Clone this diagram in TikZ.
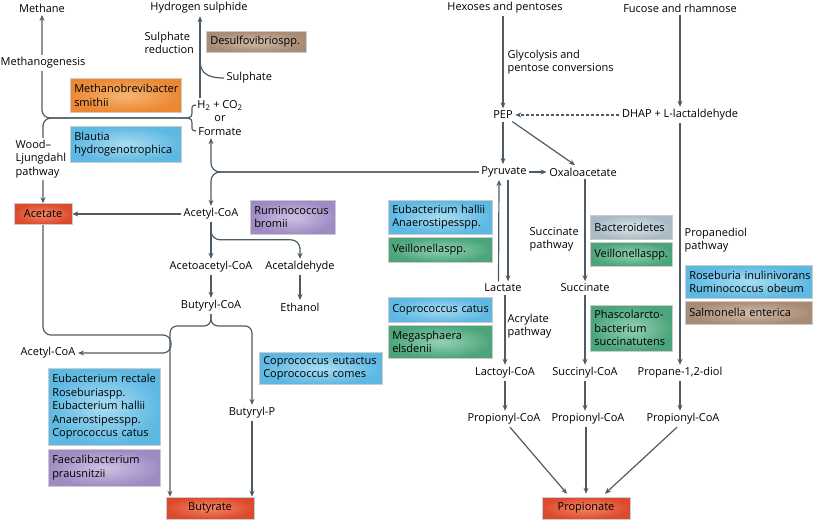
\documentclass[tikz,border=0pt]{standalone}
\usepackage{fontspec}
\setmainfont{Open Sans}
\usetikzlibrary{arrows.meta,calc}
\definecolor{linec}{HTML}{4D5B66}
\definecolor{bluein}{HTML}{A9DDF3}
\definecolor{blueout}{HTML}{5DB8E2}
\definecolor{greenin}{HTML}{93D3B3}
\definecolor{greenout}{HTML}{4CA47B}
\definecolor{purpin}{HTML}{CEC2E3}
\definecolor{purpout}{HTML}{9F8BC3}
\definecolor{orin}{HTML}{F7B673}
\definecolor{orout}{HTML}{EB8833}
\definecolor{brin}{HTML}{D0BDAD}
\definecolor{brout}{HTML}{A88B75}
\definecolor{grin}{HTML}{DCE7ED}
\definecolor{grout}{HTML}{A8BBC5}
\definecolor{redin}{HTML}{F38768}
\definecolor{redout}{HTML}{DC4A2D}
\newcommand{\fs}{\fontsize{11}{13.4}\selectfont}
\pgfdeclarelayer{bg}
\pgfsetlayers{bg,main}
\begin{document}
\begin{tikzpicture}[x=1pt,y=-1pt,
  lc/.style={draw=linec, line width=1.2pt},
  arr/.style={lc, -{Stealth[length=6pt,width=5pt]}},
  tx/.style={font=\fs, inner sep=2.5pt},
  bx/.style={draw=black!20, line width=0.5pt, font=\fs, align=left, anchor=north west, inner xsep=4pt, inner ysep=2pt,
     execute at begin node={\hyphenpenalty=10000\exhyphenpenalty=10000\hbadness=10000\hfuzz=20pt}},
  bluebox/.style={bx, inner color=bluein, outer color=blueout},
  greenbox/.style={bx, inner color=greenin, outer color=greenout},
  purplebox/.style={bx, inner color=purpin, outer color=purpout},
  orangebox/.style={bx, inner color=orin, outer color=orout},
  brownbox/.style={bx, inner color=brin, outer color=brout},
  greybox/.style={bx, inner color=grin, outer color=grout},
  redbox/.style={draw=black!20, line width=0.5pt, font=\fs, inner color=redin, outer color=redout, minimum width=88pt, minimum height=22pt, inner sep=2pt},
]
\useasboundingbox (0,0) rectangle (813,520);

% ---- top labels
\node[tx] (methane) at (42,8) {Methane};
\node[tx] (hs) at (199,8) {Hydrogen sulphide};
\node[tx] (hex) at (505,8) {Hexoses and pentoses};
\node[tx] (fuc) at (680,8) {Fucose and rhamnose};

% ---- left part
\node[tx,align=center] (h2) at (220,118) {H\textsubscript{2} + CO\textsubscript{2}\\or\\Formate};
\node[tx,anchor=west] (sulph) at (224,78) {Sulphate};
\node[tx,anchor=west,align=left] (sred) at (142,43) {Sulphate\\reduction};
\node[tx,fill=white] (mgen) at (43,63) {Methanogenesis};
\node[tx,fill=white,align=left,anchor=west] (wood) at (13,159) {Wood–\\Ljungdahl\\pathway};
\node[redbox, minimum width=58pt, minimum height=21pt] (acetate) at (43,214) {Acetate};
\node[tx] (acoa) at (211,214) {Acetyl-CoA};
\node[tx] (aacoa) at (211,267) {Acetoacetyl-CoA};
\node[tx] (acald) at (300,267) {Acetaldehyde};
\node[tx] (ethanol) at (300,307) {Ethanol};
\node[tx] (bcoa) at (211,306) {Butyryl-CoA};
\node[tx] (acoa2) at (48,353) {Acetyl-CoA};
\node[tx] (bp) at (252,413) {Butyryl-P};
\node[redbox] (butyrate) at (210,508) {Butyrate};

\node[brownbox, text width=92pt, minimum height=21pt] (desulf) at (206,31) {Desulfovibriospp.};
\node[orangebox, text width=103pt, minimum height=34pt] (methano) at (70,78) {Methanobrevibacter\\smithii};
\node[bluebox, text width=103pt, minimum height=36pt] (blautia) at (70,126) {Blautia\\hydrogenotrophica};
\node[purplebox, text width=77pt, minimum height=34pt] (rumb) at (250,200) {Ruminococcus\\bromii};
\node[bluebox, text width=104pt, minimum height=77pt] (eubr) at (48,368) {Eubacterium~rectale\\Roseburiaspp.\\Eubacterium~hallii\\Anaerostipesspp.\\Coprococcus~catus};
\node[purplebox, text width=104pt, minimum height=37pt] (faec) at (48,449) {Faecalibacterium\\prausnitzii};
\node[bluebox, text width=115pt, minimum height=32pt] (cope) at (259,352) {Coprococcus~eutactus\\Coprococcus~comes};

% ---- right part
\node[tx] (pep) at (503,115) {PEP};
\node[tx] (dhap) at (680,115) {DHAP + L-lactaldehyde};
\node[tx,anchor=west,align=left] (glyc) at (505,62) {Glycolysis and\\pentose conversions};
\node[tx] (pyr) at (504,172) {Pyruvate};
\node[tx] (oxa) at (583,172) {Oxaloacetate};
\node[tx] (lac) at (503,288) {Lactate};
\node[tx] (succ) at (585,288) {Succinate};
\node[tx,anchor=west,align=left] (spath) at (527,239) {Succinate\\pathway};
\node[tx,anchor=west,align=left] (apath) at (505,326) {Acrylate\\pathway};
\node[tx,anchor=west,align=left] (ppath) at (682,240) {Propanediol\\pathway};
\node[tx] (lcoa) at (505,373) {Lactoyl-CoA};
\node[tx] (scoa) at (585,373) {Succinyl-CoA};
\node[tx] (pdiol) at (680,373) {Propane-1,2-diol};
\node[tx] (pc1) at (504,419) {Propionyl-CoA};
\node[tx] (pc2) at (588,419) {Propionyl-CoA};
\node[tx] (pc3) at (683,419) {Propionyl-CoA};
\node[redbox] (prop) at (586,508) {Propionate};

\node[bluebox, text width=96pt, minimum height=34pt] (eubh) at (388,200) {Eubacterium~hallii\\Anaerostipesspp.};
\node[greenbox, text width=96pt, minimum height=25pt] (veil1) at (388,237) {Veillonellaspp.};
\node[bluebox, text width=96pt, minimum height=25pt] (copc) at (388,297) {Coprococcus~catus};
\node[greenbox, text width=96pt, minimum height=33pt] (mega) at (388,325) {Megasphaera\\elsdenii};
\node[greybox, text width=74pt, minimum height=24pt] (bact) at (590,215) {Bacteroidetes};
\node[greenbox, text width=74pt, minimum height=24pt] (veil2) at (590,242) {Veillonellaspp.};
\node[greenbox, text width=74pt, minimum height=46pt] (phas) at (590,305) {Phascolarcto-\\bacterium\\succinatutens};
\node[bluebox, text width=119pt, minimum height=33pt] (rose) at (685,265) {Roseburia~inulinivorans\\Ruminococcus~obeum};
\node[brownbox, text width=119pt, minimum height=23pt] (salm) at (685,301) {Salmonella~enterica};

\coordinate (hb) at (188,118);
\coordinate (sj) at (200,60);
\coordinate (bl) at (170,326);
\coordinate (br) at (252,326);
\coordinate (loop) at (171,335);

\begin{pgfonlayer}{bg}
% H2 brace
\draw[lc] (196,105) .. controls (191,105) and (192,108) .. (192,112) .. controls (192,116) and (191,118) .. (hb)
          .. controls (191,118) and (192,120) .. (192,124) .. controls (192,128) and (191,131) .. (196,131);
\draw[arr, rounded corners=8] (hb) -| (methane.south);
\draw[arr, rounded corners=8] (hb) -| (acetate.north);
\draw[arr] (h2.north -| sj) -- (sj |- hs.south);
\draw[lc] (sulph.west) .. controls (206,78) and (200,72) .. (sj);
% pyruvate line
\draw[arr, rounded corners=9] (pyr.west) -| (h2.south -| acoa.north);
\draw[arr, rounded corners=9] (pyr.west) -| (acoa.north);
\draw[arr] (acoa.west) -- (acetate.east);
\draw[arr] (acoa.south) -- (aacoa.north);
\draw[arr, rounded corners=9] (acoa.south) |- ($(acald.north)+(0,-19)$) -- (acald.north);
\draw[arr] (aacoa.south) -- (bcoa.north);
\draw[arr] (acald.south) -- (ethanol.north);
% butyryl brace
\draw[arr, rounded corners=7] (bcoa.south) |- (bl) -- (bl |- butyrate.north);
\draw[arr, rounded corners=7] (bcoa.south) |- (br) -- (bp.north);
\draw[arr] (bp.south) -- (bp.south |- butyrate.north);
% acetate loop
\draw[arr, rounded corners=8] (acetate.south) |- (loop) |- (acoa2.east);
% right part
\draw[arr] (pep.north |- hex.south) -- (pep.north);
\draw[arr] (fuc.south) -- (dhap.north);
\draw[arr, dashed, dash pattern=on 3pt off 2pt] (dhap.west) -- (pep.east);
\draw[arr] (pep.south) -- (pep.south |- pyr.north);
\draw[arr] ($(pep.south east)+(-3,0)$) -- ($(oxa.north)+(-8,0)$);
\draw[arr] (pyr.east) -- (oxa.west);
\draw[arr] ($(lac.north)+(-4.5,0)$) -- ($(pyr.south)+(-5,0)$);
\draw[arr] ($(pyr.south)+(4,0)$) -- ($(lac.north)+(5,0)$);
\draw[arr] (succ.north |- oxa.south) -- (succ.north);
\draw[arr] (dhap.south) -- (pdiol.north);
\draw[arr] (lcoa.north |- lac.south) -- (lcoa.north);
\draw[arr] (succ.south) -- (scoa.north);
\draw[arr] (lcoa.south) -- (lcoa.south |- pc1.north);
\draw[arr] (scoa.south) -- (scoa.south |- pc2.north);
\draw[arr] (pdiol.south) -- (pdiol.south |- pc3.north);
\draw[arr] ($(pc1.south)+(6,0)$) -- ($(prop.north)+(-19,-3)$);
\draw[arr] (pc2.south -| prop.north) -- ($(prop.north)+(0,-3)$);
\draw[arr] ($(pc3.south)+(-6,0)$) -- ($(prop.north)+(19,-3)$);
\end{pgfonlayer}
\end{tikzpicture}
\end{document}
